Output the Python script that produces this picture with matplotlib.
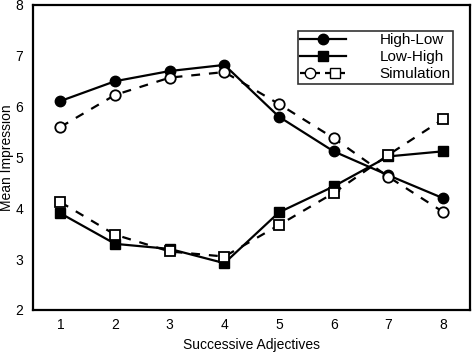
import numpy as np
import matplotlib
matplotlib.use("Agg")
import matplotlib.pyplot as plt
from matplotlib.lines import Line2D
from matplotlib.legend_handler import HandlerTuple

plt.rcParams['font.family'] = ['Liberation Sans', 'DejaVu Sans']

adjectives = [1, 2, 3, 4, 5, 6, 7, 8]
high_low = [6.11, 6.5, 6.7, 6.82, 5.8, 5.12, 4.65, 4.2]
low_high = [3.9, 3.3, 3.2, 2.92, 3.92, 4.43, 5.02, 5.12]
sim_high_low = [5.6, 6.23, 6.57, 6.68, 6.05, 5.38, 4.62, 3.93]
sim_low_high = [4.12, 3.48, 3.15, 3.05, 3.67, 4.3, 5.05, 5.75]

fig = plt.figure(figsize=(4.74, 3.53), dpi=100)
ax = fig.add_axes([0.07, 0.122, 0.922, 0.864])

ax.plot(adjectives, sim_high_low, '--', color='black', lw=1.6, dashes=(4, 4),
        marker='o', ms=7.5, mfc='white', mec='black', mew=1.3, zorder=2)
ax.plot(adjectives, sim_low_high, '--', color='black', lw=1.6, dashes=(4, 4),
        marker='s', ms=7.5, mfc='white', mec='black', mew=1.3, zorder=2)
ax.plot(adjectives, high_low, '-', color='black', lw=1.6,
        marker='o', ms=7.5, mfc='black', mec='black', zorder=1)
ax.plot(adjectives, low_high, '-', color='black', lw=1.6,
        marker='s', ms=7.5, mfc='black', mec='black', zorder=1)

ax.set_xlim(0.5, 8.5)
ax.set_ylim(2, 8)
ax.set_xticks(adjectives)
ax.set_yticks([2, 3, 4, 5, 6, 7, 8])
ax.tick_params(labelsize=10, length=0)
ax.tick_params(axis='x', pad=6)
ax.tick_params(axis='y', pad=7)
for s in ax.spines.values():
    s.set_linewidth(1.6)
ax.set_xlabel('Successive Adjectives', fontsize=10, labelpad=4)
ax.set_ylabel('Mean Impression', fontsize=10, labelpad=1)

h1 = Line2D([], [], color='black', lw=1.6, marker='o', ms=7.5)
h2 = Line2D([], [], color='black', lw=1.6, marker='s', ms=7.5)
h3a = Line2D([], [], color='black', lw=1.6, ls='--', marker='o', ms=7.5, mfc='white')
h3b = Line2D([], [], color='black', lw=1.6, ls='--', marker='s', ms=7.5, mfc='white')
leg = ax.legend([h1, h2, (h3a, h3b)], ['High-Low', 'Low-High', 'Simulation'],
                handler_map={tuple: HandlerTuple(ndivide=None, pad=0.3)},
                loc='upper right', bbox_to_anchor=(0.96, 0.915), fontsize=11,
                frameon=True, fancybox=False, edgecolor='black', handlelength=3.0,
                borderpad=0.15, labelspacing=0.2, handletextpad=2.2,
                borderaxespad=0)
leg.get_frame().set_linewidth(1.2)

fig.savefig('out.png', dpi=100)
